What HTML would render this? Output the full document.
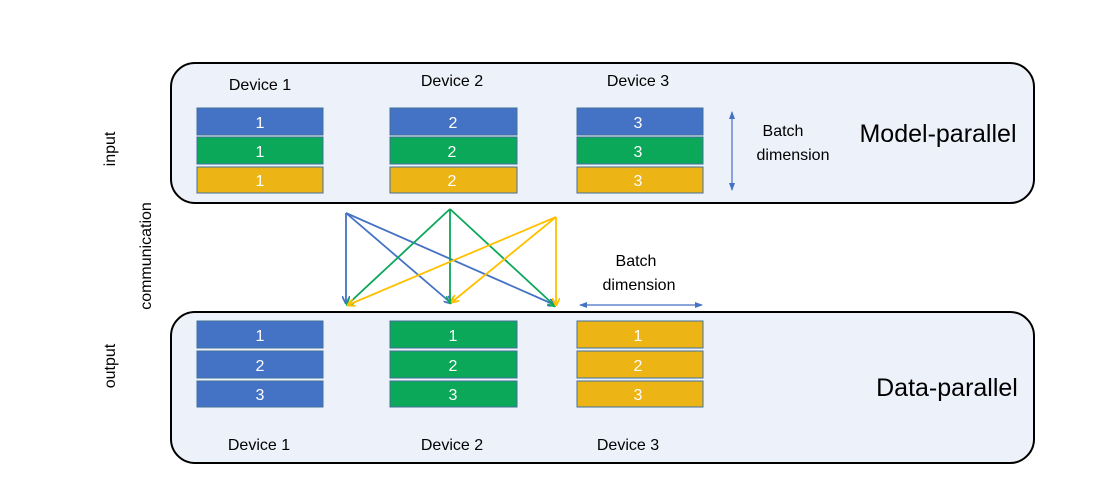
<!DOCTYPE html>
<html><head><meta charset="utf-8"><style>
html,body{margin:0;padding:0;background:#fff;}
svg{display:block;font-family:"Liberation Sans",sans-serif;}
</style></head><body>
<svg width="1102" height="484" viewBox="0 0 1102 484" xmlns="http://www.w3.org/2000/svg">
<defs>
<marker id="mb" markerWidth="8" markerHeight="8" refX="7" refY="4" orient="auto" markerUnits="userSpaceOnUse"><path d="M0,0 L8,4 L0,8" fill="none" stroke="#4472C4" stroke-width="1.8"/></marker>
<marker id="mg" markerWidth="8" markerHeight="8" refX="7" refY="4" orient="auto" markerUnits="userSpaceOnUse"><path d="M0,0 L8,4 L0,8" fill="none" stroke="#0AA858" stroke-width="1.8"/></marker>
<marker id="my" markerWidth="8" markerHeight="8" refX="7" refY="4" orient="auto" markerUnits="userSpaceOnUse"><path d="M0,0 L8,4 L0,8" fill="none" stroke="#FFC000" stroke-width="1.8"/></marker>
<marker id="ms" markerWidth="8" markerHeight="8" refX="7" refY="4" orient="auto-start-reverse" markerUnits="userSpaceOnUse"><path d="M0,1 L8,4 L0,7 Z" fill="#4472C4"/></marker>
</defs>
<rect x="171" y="63" width="863" height="140" rx="24" fill="#EDF1F9" stroke="#000" stroke-width="2"/>
<rect x="171" y="312" width="863" height="151" rx="24" fill="#EDF1F9" stroke="#000" stroke-width="2"/>
<g font-size="16" fill="#000" text-anchor="middle">
<text x="260" y="90">Device 1</text><text x="452" y="86">Device 2</text><text x="638" y="86">Device 3</text>
<text x="259" y="450">Device 1</text><text x="452" y="450">Device 2</text><text x="628" y="450">Device 3</text>
<text x="783" y="136">Batch</text><text x="793" y="160">dimension</text>
<text x="636" y="266">Batch</text><text x="639" y="290">dimension</text>
</g>
<g font-size="25" fill="#000" text-anchor="middle">
<text x="938" y="142">Model-parallel</text><text x="947" y="396">Data-parallel</text>
</g>
<g font-size="16" fill="#000" text-anchor="middle">
<text transform="translate(115,149) rotate(-90)">input</text>
<text transform="translate(151,256) rotate(-90)">communication</text>
<text transform="translate(115,366) rotate(-90)">output</text>
</g>
<g stroke="#41719C" stroke-width="1" font-size="16" fill="#fff" text-anchor="middle">
<rect x="197" y="108" width="126" height="27" fill="#4472C4"/><rect x="197" y="137" width="126" height="27" fill="#0AA858"/><rect x="197" y="167" width="126" height="26" fill="#EDB416"/>
<rect x="390" y="108" width="127" height="27" fill="#4472C4"/><rect x="390" y="137" width="127" height="27" fill="#0AA858"/><rect x="390" y="167" width="127" height="26" fill="#EDB416"/>
<rect x="577" y="108" width="126" height="27" fill="#4472C4"/><rect x="577" y="137" width="126" height="27" fill="#0AA858"/><rect x="577" y="167" width="126" height="26" fill="#EDB416"/>
<rect x="197" y="321" width="126" height="27" fill="#4472C4"/><rect x="197" y="351" width="126" height="27" fill="#4472C4"/><rect x="197" y="381" width="126" height="26" fill="#4472C4"/>
<rect x="390" y="321" width="127" height="27" fill="#0AA858"/><rect x="390" y="351" width="127" height="27" fill="#0AA858"/><rect x="390" y="381" width="127" height="26" fill="#0AA858"/>
<rect x="577" y="321" width="126" height="27" fill="#EDB416"/><rect x="577" y="351" width="126" height="27" fill="#EDB416"/><rect x="577" y="381" width="126" height="26" fill="#EDB416"/>
</g>
<g font-size="16" fill="#fff" text-anchor="middle">
<text x="260" y="128">1</text><text x="260" y="157">1</text><text x="260" y="186">1</text>
<text x="453" y="128">2</text><text x="452" y="157">2</text><text x="452" y="186">2</text>
<text x="638" y="128">3</text><text x="638" y="157">3</text><text x="638" y="186">3</text>
<text x="260" y="341">1</text><text x="260" y="371">2</text><text x="260" y="400">3</text>
<text x="453" y="341">1</text><text x="453" y="371">2</text><text x="453" y="400">3</text>
<text x="638" y="341">1</text><text x="638" y="371">2</text><text x="638" y="400">3</text>
</g>
<g fill="none" stroke-width="1.8">
<g stroke="#4472C4" marker-end="url(#mb)">
<line x1="346" y1="213" x2="346" y2="303"/><line x1="346" y1="213" x2="451" y2="303"/><line x1="346" y1="213" x2="555" y2="305"/></g>
<g stroke="#0AA858" marker-end="url(#mg)">
<line x1="450" y1="209" x2="347" y2="305"/><line x1="450" y1="209" x2="450" y2="303"/><line x1="450" y1="209" x2="555" y2="306"/></g>
<g stroke="#FFC000" marker-end="url(#my)">
<line x1="556" y1="217" x2="348" y2="305"/><line x1="556" y1="217" x2="452" y2="302"/><line x1="556" y1="217" x2="556" y2="305"/></g>
</g>
<g stroke="#4472C4" stroke-width="1.2" marker-end="url(#ms)" marker-start="url(#ms)">
<line x1="732" y1="112" x2="732" y2="190" />
<line x1="580" y1="305" x2="702" y2="305"/>
</g>
</svg>
</body></html>
